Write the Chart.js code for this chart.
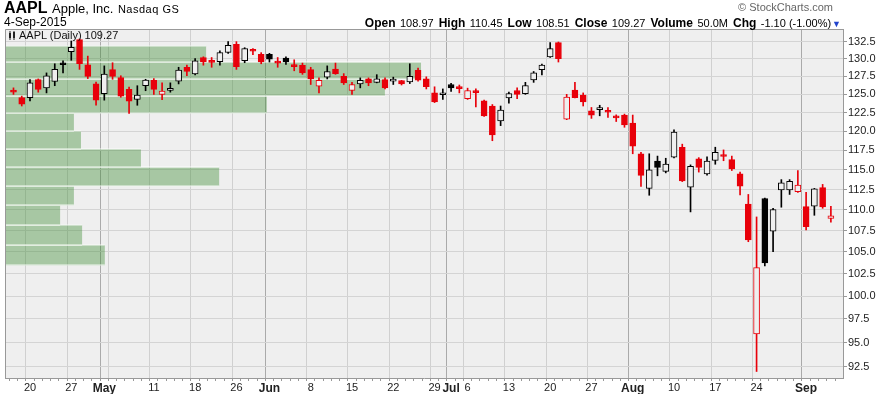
<!DOCTYPE html>
<html>
<head>
<meta charset="utf-8">
<script src="https://cdn.jsdelivr.net/npm/chart.js@4.4.0/dist/chart.umd.min.js"></script>
<style>
  html, body { margin: 0; padding: 0; background: #fff; }
  #wrap { position: relative; width: 878px; height: 394px; font-family: "Liberation Sans", Arial, sans-serif; color: #000; }
  #chart { position: absolute; left: 0; top: 0; }
  .t { position: absolute; white-space: nowrap; }
  .k { font-weight: bold; font-size: 12px; }
  .v { font-size: 11px; margin-right: 5px; }
</style>
</head>
<body>
<div id="wrap">
  <canvas id="chart" width="878" height="394"></canvas>
  <div class="t" style="left:4px;top:-1px;"><b style="font-size:16px">AAPL</b> <span style="font-size:13px">Apple, Inc.</span> <span style="font-size:11px;letter-spacing:0.5px">Nasdaq GS</span></div>
  <div class="t" style="left:4px;top:15px;font-size:12px">4-Sep-2015</div>
  <div class="t" style="right:45px;top:1px;font-size:11px;color:#666">&copy; StockCharts.com</div>
  <div class="t" id="quote" style="right:37px;top:13px;"></div>
  <div class="t" id="legend" style="left:8px;top:29px;font-size:11px;color:#111"></div>
</div>
<script>
// ===== DATA =====
const symbol = "AAPL";
const lastVolume = "50.0M";
const closeBefore = 126.0;

// trading days 16-Apr-2015 .. 4-Sep-2015
const days = [
  "Apr 16","Apr 17","Apr 20","Apr 21","Apr 22","Apr 23","Apr 24","Apr 27","Apr 28","Apr 29",
  "Apr 30","May 1","May 4","May 5","May 6","May 7","May 8","May 11","May 12","May 13",
  "May 14","May 15","May 18","May 19","May 20","May 21","May 22","May 26","May 27","May 28",
  "May 29","Jun 1","Jun 2","Jun 3","Jun 4","Jun 5","Jun 8","Jun 9","Jun 10","Jun 11",
  "Jun 12","Jun 15","Jun 16","Jun 17","Jun 18","Jun 19","Jun 22","Jun 23","Jun 24","Jun 25",
  "Jun 26","Jun 29","Jun 30","Jul 1","Jul 2","Jul 6","Jul 7","Jul 8","Jul 9","Jul 10",
  "Jul 13","Jul 14","Jul 15","Jul 16","Jul 17","Jul 20","Jul 21","Jul 22","Jul 23","Jul 24",
  "Jul 27","Jul 28","Jul 29","Jul 30","Jul 31","Aug 3","Aug 4","Aug 5","Aug 6","Aug 7",
  "Aug 10","Aug 11","Aug 12","Aug 13","Aug 14","Aug 17","Aug 18","Aug 19","Aug 20","Aug 21",
  "Aug 24","Aug 25","Aug 26","Aug 27","Aug 28","Aug 31","Sep 1","Sep 2","Sep 3","Sep 4"
];

const opens = [
  125.45,124.54,124.54,127.06,125.9,126.8,129.45,131.05,132.8,129.16,
  126.45,125.1,128.46,127.35,125.68,124.3,126.2,126.97,125.0,125.55,
  126.85,128.78,127.85,130.2,129.6,129.6,130.95,132.12,129.73,131.25,
  130.66,130.66,129.5,130.1,129.0,129.06,128.46,126.15,127.4,128.55,
  127.5,125.55,126.45,127.15,126.67,127.06,126.85,126.93,126.73,128.36,
  127.15,125.2,124.95,126.37,125.85,124.4,125.3,124.1,123.4,121.37,
  124.5,125.54,125.1,127.0,128.46,130.3,132.35,121.63,125.58,124.9,
  122.75,122.9,122.65,121.9,122.17,121.1,117.05,112.65,116.1,114.8,
  116.6,117.9,112.8,116.4,114.48,116.2,116.8,116.3,114.48,110.7,
  95.9,111.4,107.45,112.45,112.45,112.25,110.4,110.45,112.74,108.97
];
const highs = [
  125.9,124.76,127.06,127.15,128.0,129.3,129.73,132.6,132.9,130.4,
  126.7,129.0,129.45,127.6,126.0,126.2,127.1,127.2,126.6,126.6,
  128.8,129.1,130.05,130.3,130.2,131.15,132.5,132.5,131.62,131.48,
  130.9,130.8,130.2,130.3,129.87,129.4,128.8,127.3,129.0,129.4,
  127.9,126.67,127.3,127.3,127.75,127.3,127.4,126.95,129.3,128.7,
  127.45,126.05,125.75,126.55,126.3,125.86,125.77,124.2,123.6,123.4,
  125.3,125.9,126.67,128.2,129.25,132.35,132.45,125.0,126.67,125.2,
  123.2,123.5,123.2,122.2,122.3,122.17,117.25,117.05,116.75,116.47,
  120.2,118.3,115.62,116.55,116.65,117.9,117.55,116.75,114.7,111.9,
  109.15,111.45,110.2,113.75,113.75,114.9,112.15,112.65,113.15,110.45
];
const lows = [
  125.0,123.4,124.1,125.3,125.2,126.2,128.0,129.8,128.5,127.2,
  123.5,124.2,127.1,124.6,122.4,123.5,125.5,125.0,124.25,125.3,
  126.45,127.6,127.7,129.1,128.8,129.1,130.8,128.5,129.45,130.6,
  129.3,129.55,128.8,129.2,128.3,127.8,126.37,125.2,127.15,127.8,
  126.37,125.0,125.9,126.2,126.6,125.75,126.37,126.3,126.5,126.85,
  125.75,123.87,124.3,125.4,125.2,124.3,123.26,122.0,118.75,120.75,
  123.8,124.4,125.0,126.67,127.7,130.2,129.55,121.55,124.5,123.4,
  121.72,122.07,121.85,121.3,120.53,117.05,112.9,111.8,114.23,114.6,
  116.5,113.5,109.76,114.7,114.3,115.7,116.15,114.9,111.85,106.2,
  92.0,103.4,105.05,110.33,111.9,112.15,107.6,109.35,110.2,108.51
];
const closes = [
  125.3,123.64,126.6,125.68,127.6,128.5,129.16,131.66,129.3,127.5,
  124.2,127.85,127.5,124.76,124.05,124.9,127.0,125.68,125.45,125.65,
  128.4,128.2,129.73,129.55,129.5,130.9,131.97,128.9,131.48,131.1,
  129.55,129.97,129.4,129.55,128.9,128.0,127.15,126.97,128.2,127.9,
  126.6,126.37,126.97,126.6,127.15,125.9,126.95,126.45,127.5,126.97,
  126.05,123.95,125.05,125.9,125.8,125.54,125.25,122.07,119.53,122.84,
  125.1,125.0,126.23,128.0,129.1,131.48,130.05,124.63,124.55,123.95,
  122.17,123.0,122.55,121.8,120.84,118.04,114.28,115.0,115.3,115.71,
  119.9,113.6,115.42,115.3,116.1,117.25,116.7,115.09,112.93,106.4,
  103.2,103.75,110.05,113.34,113.54,113.07,107.98,112.6,110.37,109.27
];

// volume by price: 12 equal price zones, bottom to top (millions of shares)
const zoneLow = 103.45;
const zoneStep = 2.37;
const zoneVolume = [268, 207, 148, 185, 575, 365, 204, 185, 703, 1020, 1117, 540];

// axes
const yTicks = [92.5, 95, 97.5, 100, 102.5, 105, 107.5, 110, 112.5, 115, 117.5, 120, 122.5, 125, 127.5, 130, 132.5];
const weekLines = [2, 7, 12, 17, 22, 27, 31, 36, 41, 46, 51, 55, 60, 65, 70, 75, 80, 85, 90];
const monthLines = [11, 31, 53, 75, 96];
const tickAt = [2, 7, 11, 17, 22, 27, 31, 36, 41, 46, 51, 53, 55, 60, 65, 70, 75, 80, 85, 90, 96];
const tickText = ["20", "27", "May", "11", "18", "26", "Jun", "8", "15", "22", "29", "Jul", "6", "13", "20", "27", "Aug", "10", "17", "24", "Sep"];

// ===== STYLE =====
const red = "#e8000a";
const black = "#000000";
const plotBg = "#efefef";
const fontFamily = '"Liberation Sans", Arial, sans-serif';

// header text
const n = closes.length;
const last = n - 1;
const chg = closes[last] - closes[last - 1];
const chgPct = chg / closes[last - 1] * 100;
document.getElementById("quote").innerHTML =
  '<span class="k">Open</span> <span class="v">' + opens[last].toFixed(2) + '</span>' +
  '<span class="k">High</span> <span class="v">' + highs[last].toFixed(2) + '</span>' +
  '<span class="k">Low</span> <span class="v">' + lows[last].toFixed(2) + '</span>' +
  '<span class="k">Close</span> <span class="v">' + closes[last].toFixed(2) + '</span>' +
  '<span class="k">Volume</span> <span class="v">' + lastVolume + '</span>' +
  '<span class="k">Chg</span> <span class="v" style="margin-right:1px">' + chg.toFixed(2) + ' (' + chgPct.toFixed(2) + '%)</span>' +
  '<span style="color:#2244cc;font-size:9px">&#9660;</span>';
document.getElementById("legend").innerHTML =
  '<svg width="9" height="9" style="vertical-align:-1px;margin-right:2px"><rect x="1" y="2" width="2" height="5" fill="#222"/><rect x="5" y="1" width="2" height="6" fill="#222"/><line x1="2" y1="0" x2="2" y2="9" stroke="#222"/><line x1="6" y1="0" x2="6" y2="9" stroke="#222"/></svg>' +
  symbol + " (Daily) " + closes[last].toFixed(2);

// candles
const bodyData = [];
const wickData = [];
const edgeColor = [];
const fillColor = [];
for (let i = 0; i < n; i++) {
  const prev = i === 0 ? closeBefore : closes[i - 1];
  const col = closes[i] < prev ? red : black;
  bodyData.push({ x: i, y: [opens[i], closes[i]] });
  wickData.push({ x: i, y: [lows[i], highs[i]] });
  edgeColor.push(col);
  fillColor.push(closes[i] > opens[i] ? plotBg : col);
}

// plot background, volume-by-price zones, frame
const plotFrame = {
  id: "plotFrame",
  beforeDraw(chart) {
    const { ctx, chartArea: a } = chart;
    ctx.save();
    ctx.fillStyle = plotBg;
    ctx.fillRect(a.left, a.top, a.right - a.left, a.bottom - a.top);
    ctx.restore();
  },
  beforeDatasetsDraw(chart) {
    const { ctx, chartArea: a } = chart;
    const xs = chart.scales.xv;
    const ys = chart.scales.y;
    const w = a.right - a.left;
    const xPix = (v) => a.left + (v - xs.min) / (xs.max - xs.min) * w;
    ctx.save();
    zoneVolume.forEach((v, k) => {
      const lo = zoneLow + k * zoneStep;
      const hi = lo + zoneStep;
      const x0 = xPix(0);
      const x1 = xPix(v);
      const yt = ys.getPixelForValue(hi);
      const yb = ys.getPixelForValue(lo);
      ctx.fillStyle = "rgba(60,140,50,0.4)";
      ctx.fillRect(x0, yt, x1 - x0, yb - yt);
      ctx.fillStyle = "rgba(255,255,255,0.85)";
      ctx.fillRect(x0, Math.round(yt) - 0.5, x1 - x0, 1);
      ctx.fillRect(x0, Math.round(yb) - 0.5, x1 - x0, 1);
    });
    ctx.restore();
  },
  afterDraw(chart) {
    const { ctx, chartArea: a } = chart;
    ctx.save();
    ctx.strokeStyle = "#999";
    ctx.lineWidth = 1;
    ctx.beginPath();
    ctx.moveTo(a.left + 0.5, a.bottom);
    ctx.lineTo(a.left + 0.5, a.top + 0.5);
    ctx.lineTo(a.right, a.top + 0.5);
    ctx.stroke();
    ctx.restore();
  }
};

const isMonth = (v) => monthLines.includes(v);

new Chart(document.getElementById("chart"), {
  type: "bar",
  data: {
    datasets: [
      {
        label: "body",
        data: bodyData,
        backgroundColor: fillColor,
        borderColor: edgeColor,
        borderWidth: 1,
        borderSkipped: false,
        barThickness: 6,
        minBarLength: 2,
        grouped: false,
        order: 0
      },
      {
        label: "wick",
        data: wickData,
        backgroundColor: edgeColor,
        borderWidth: 0,
        barThickness: 1,
        grouped: false,
        order: 1
      }
    ]
  },
  options: {
    responsive: false,
    animation: false,
    layout: { padding: { left: 5, top: 29, right: 0, bottom: 0 } },
    plugins: { legend: { display: false }, tooltip: { enabled: false } },
    scales: {
      x: {
        type: "linear",
        min: -0.52,
        max: 99.96,
        afterBuildTicks: (axis) => { axis.ticks = days.map((d, i) => ({ value: i })); },
        afterFit: (axis) => { axis.height = 16; },
        grid: {
          color: (c) => {
            if (!c.tick) return "rgba(0,0,0,0)";
            if (isMonth(c.tick.value)) return "#aaaaaa";
            if (weekLines.includes(c.tick.value)) return "#d0d0d0";
            return "rgba(0,0,0,0)";
          },
          tickColor: "#999",
          tickLength: 3
        },
        border: { color: "#999" },
        ticks: {
          autoSkip: false,
          maxRotation: 0,
          padding: 0,
          color: "#222",
          callback: (v) => {
            const k = tickAt.indexOf(v);
            return k >= 0 ? tickText[k] : "";
          },
          font: (c) => (c.tick && isMonth(c.tick.value))
            ? { family: fontFamily, size: 12, weight: "bold" }
            : { family: fontFamily, size: 11 }
        }
      },
      y: {
        type: "logarithmic",
        position: "right",
        min: 91.34,
        max: 134.37,
        afterBuildTicks: (axis) => { axis.ticks = yTicks.map((v) => ({ value: v })); },
        afterFit: (axis) => { axis.width = 35; },
        grid: { color: "#d4d4d4", tickColor: "#999", tickLength: 4 },
        border: { color: "#999" },
        ticks: {
          autoSkip: false,
          padding: 1,
          color: "#222",
          font: { family: fontFamily, size: 11 },
          callback: (v) => Number(v).toFixed(1)
        }
      },
      xv: {
        type: "linear",
        axis: "x",
        display: false,
        min: 0,
        max: 2250
      }
    }
  },
  plugins: [plotFrame]
});
</script>
</body>
</html>
